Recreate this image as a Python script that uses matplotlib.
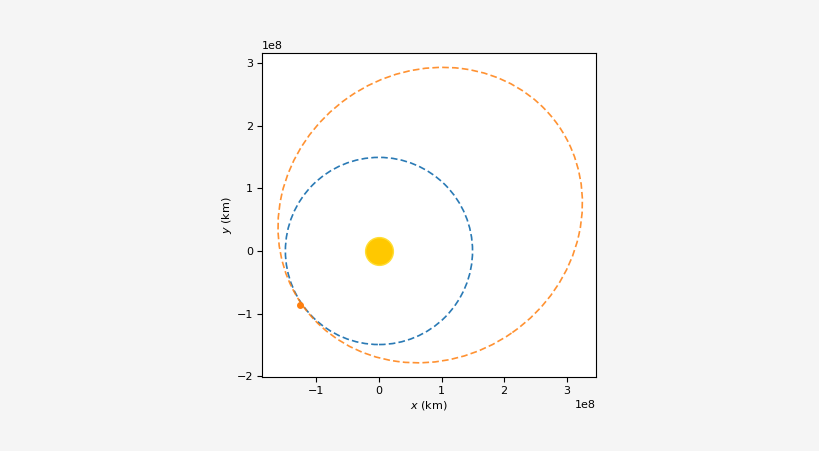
import numpy as np
import matplotlib.pyplot as plt
from matplotlib.patches import Circle, Ellipse

# orbit values (km)
earth_radius = 1.496e8
transfer_a = 2.5e8           # semi-major axis
transfer_c = 1.0e8           # focus offset from centre
transfer_angle = 35.0        # direction of aphelion, degrees
probe_xy = [-1.26e8, -0.86e8]
sun_xy = [0.0, 0.0]

x_limits = [-1.87e8, 3.47e8]
y_limits = [-2.02e8, 3.17e8]

plt.rcParams['font.size'] = 8
plt.rcParams['xtick.major.pad'] = 2.8
plt.rcParams['ytick.major.pad'] = 2.8

fig = plt.figure(figsize=(8.2, 4.51), dpi=100, facecolor='#f5f5f5')
ax = fig.add_axes([262 / 820, 1 - 378 / 451, 334 / 820, 326 / 451])

ax.add_patch(Circle(sun_xy, earth_radius, fill=False, ls=(0, (4, 1.9)),
                    ec='#2a7ab5', lw=1.2))

b = np.sqrt(transfer_a ** 2 - transfer_c ** 2)
th = np.deg2rad(transfer_angle)
centre = (transfer_c * np.cos(th), transfer_c * np.sin(th))
ax.add_patch(Ellipse(centre, 2 * transfer_a, 2 * b, angle=transfer_angle,
                     fill=False, ls=(0, (4, 1.9)), ec='C1', lw=1.2,
                     alpha=0.85))

ax.plot(*sun_xy, 'o', color='#ffc800', markeredgecolor='#ffdd33',
        markersize=20)
ax.plot(*probe_xy, 'o', color='C1', markersize=4)

ax.set_xlim(x_limits)
ax.set_ylim(y_limits)
ax.set_aspect('equal')
ax.set_xlabel('$x$ (km)', labelpad=2)
ax.set_ylabel('$y$ (km)', labelpad=2)

fig.savefig('out.png', dpi=100, facecolor=fig.get_facecolor())
